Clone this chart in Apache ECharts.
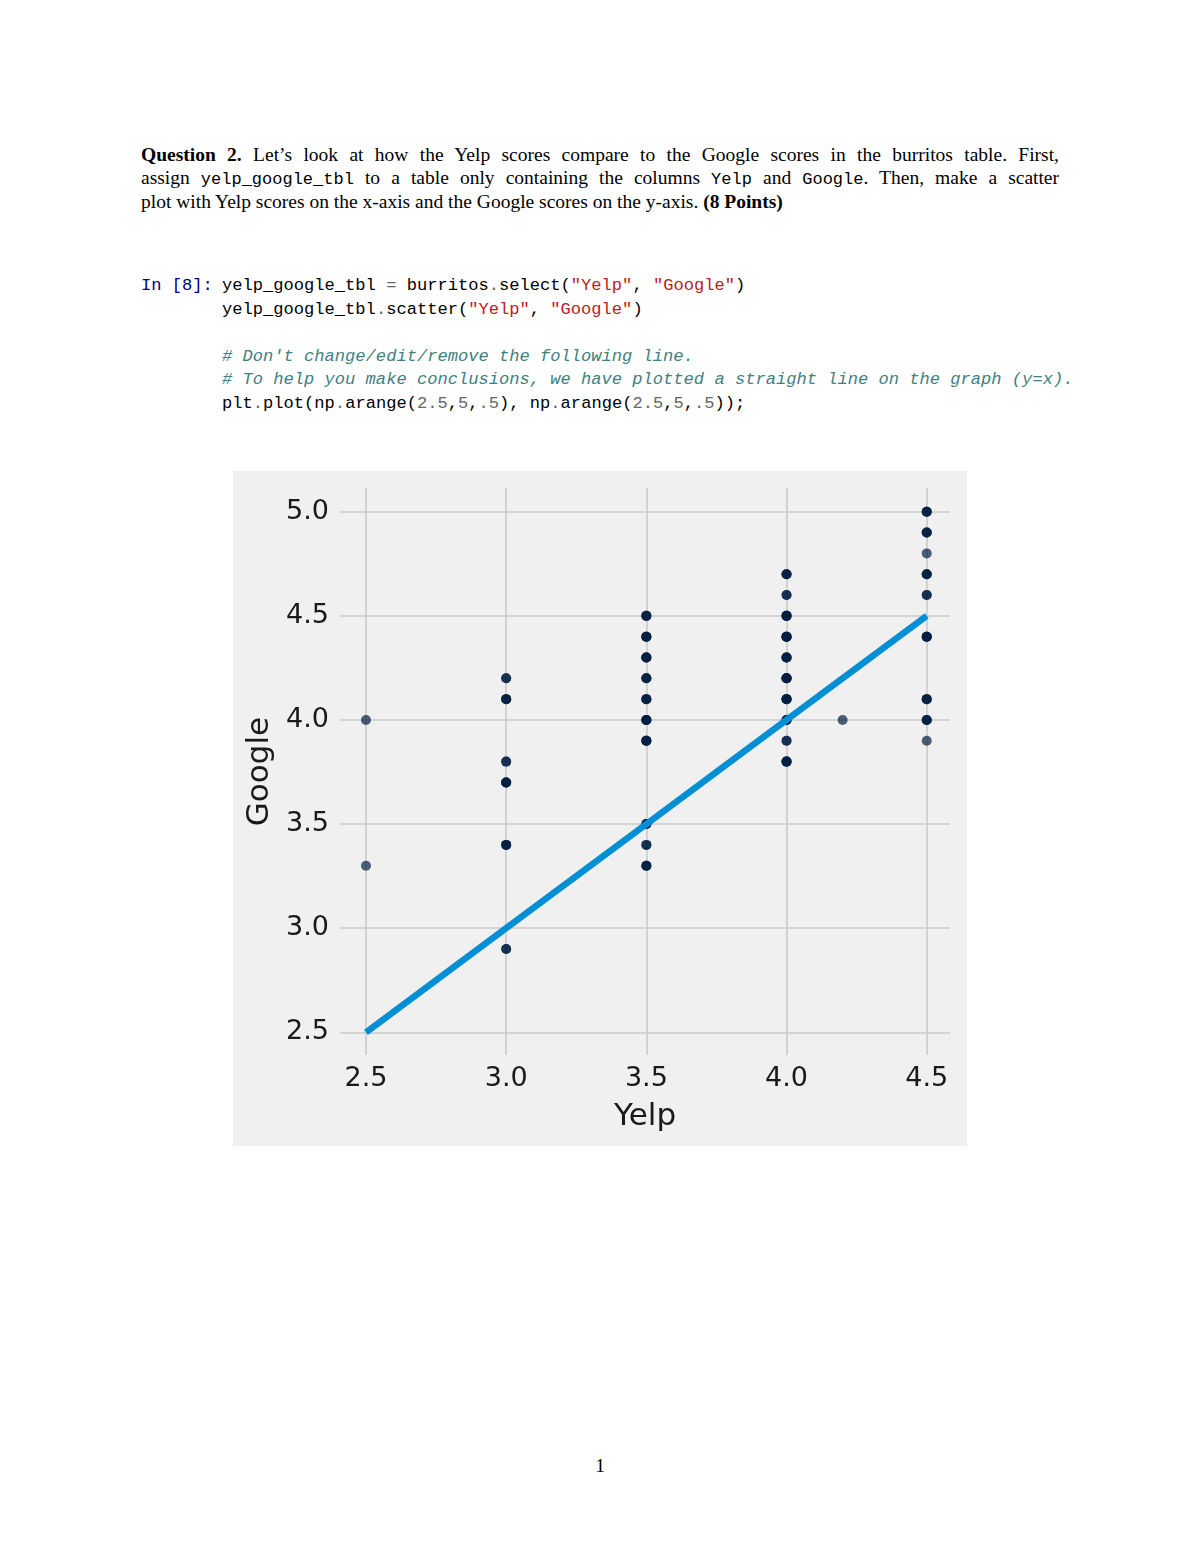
<!DOCTYPE html>
<html>
<head>
<meta charset="utf-8">
<script src="https://cdn.jsdelivr.net/npm/echarts@6/dist/echarts.min.js"></script>
<style>
  html, body { margin: 0; padding: 0; background: #ffffff; }
  body { width: 1200px; height: 1553px; position: relative; overflow: hidden; }
  .txt { position: absolute; left: 141px; width: 918px; font-family: "Liberation Serif", "DejaVu Serif", serif; font-size: 19.5px; line-height: 24px; color: #000; white-space: nowrap; }
  .just { text-align: justify; text-align-last: justify; white-space: normal; }
  .tt { font-family: "Liberation Mono", "DejaVu Sans Mono", monospace; font-size: 17px; }
  .code { position: absolute; font-family: "Liberation Mono", "DejaVu Sans Mono", monospace; font-size: 17.1px; line-height: 23.6px; color: #000; white-space: pre; }
  .prompt { color: #000080; }
  .s { color: #ba2121; }
  .n { color: #666666; }
  .c { color: #408080; font-style: italic; }
  #chart { position: absolute; left: 233px; top: 471px; width: 734px; height: 675px; }
  #pg { position: absolute; left: 590px; width: 20px; top: 1454px; text-align: center; font-family: "Liberation Serif", serif; font-size: 19.5px; line-height: 24px; }
</style>
</head>
<body>
<div class="txt just" style="top:143px;"><b>Question 2.</b> Let’s look at how the Yelp scores compare to the Google scores in the burritos table. First,</div>
<div class="txt just" style="top:166px;">assign <span class="tt">yelp_google_tbl</span> to a table only containing the columns <span class="tt">Yelp</span> and <span class="tt">Google</span>. Then, make a scatter</div>
<div class="txt" style="top:190px;">plot with Yelp scores on the x-axis and the Google scores on the y-axis. <b>(8 Points)</b></div>

<div class="code prompt" style="left:141px; top:274px;">In [8]:</div>
<div class="code" style="left:222px; top:274px;">yelp_google_tbl <span class="n">=</span> burritos<span class="n">.</span>select(<span class="s">"Yelp"</span>, <span class="s">"Google"</span>)
yelp_google_tbl<span class="n">.</span>scatter(<span class="s">"Yelp"</span>, <span class="s">"Google"</span>)

<span class="c"># Don't change/edit/remove the following line.</span>
<span class="c"># To help you make conclusions, we have plotted a straight line on the graph (y=x).</span>
plt<span class="n">.</span>plot(np<span class="n">.</span>arange(<span class="n">2.5</span>,<span class="n">5</span>,<span class="n">.5</span>), np<span class="n">.</span>arange(<span class="n">2.5</span>,<span class="n">5</span>,<span class="n">.5</span>));</div>

<div id="chart"></div>
<div id="pg">1</div>

<script>
// ---- data ----
// Yelp score of each column of points
const yelpValues = [2.5, 3.0, 3.5, 4.0, 4.2, 4.5];
// Google scores of the rows at each Yelp value (repeats = overlapping rows, drawn darker)
const googleAt2_5 = [4.0, 3.3];
const googleAt3_0 = [4.2, 4.2, 4.1, 4.1, 4.1, 3.8, 3.8, 3.7, 3.7, 3.7, 3.7, 3.4, 3.4, 3.4, 2.9, 2.9];
const googleAt3_5 = [4.5, 4.5, 4.5, 4.4, 4.4, 4.4, 4.4, 4.3, 4.3, 4.3, 4.3, 4.2, 4.2, 4.2, 4.1, 4.1, 4.1,
                     4.0, 4.0, 4.0, 4.0, 3.9, 3.9, 3.9, 3.9, 3.5, 3.5, 3.5, 3.4, 3.4, 3.3, 3.3, 3.3];
const googleAt4_0 = [4.7, 4.7, 4.7, 4.6, 4.6, 4.5, 4.5, 4.5, 4.5, 4.4, 4.4, 4.4, 4.4, 4.4, 4.3, 4.3, 4.3, 4.3,
                     4.2, 4.2, 4.2, 4.2, 4.2, 4.1, 4.1, 4.1, 4.1, 4.0, 4.0, 4.0, 3.9, 3.9, 3.8, 3.8, 3.8, 3.8];
const googleAt4_2 = [4.0];
const googleAt4_5 = [5.0, 5.0, 5.0, 4.9, 4.9, 4.9, 4.8, 4.7, 4.7, 4.7, 4.6, 4.6, 4.4, 4.4, 4.4, 4.4,
                     4.1, 4.1, 4.1, 4.0, 4.0, 4.0, 3.9];
const googleByYelp = [googleAt2_5, googleAt3_0, googleAt3_5, googleAt4_0, googleAt4_2, googleAt4_5];

// reference line y = x: np.arange(2.5, 5, .5)
const lineX = [2.5, 3.0, 3.5, 4.0, 4.5];
const lineY = [2.5, 3.0, 3.5, 4.0, 4.5];
// tick labels
const xTicks = [2.5, 3.0, 3.5, 4.0, 4.5];
const yTicks = [2.5, 3.0, 3.5, 4.0, 4.5, 5.0];

const scatterData = [];
yelpValues.forEach((x, i) => googleByYelp[i].forEach(y => scatterData.push([x, y])));

const chart = echarts.init(document.getElementById('chart'), null, { renderer: 'canvas' });
const fmt = v => Number(v).toFixed(1);
const axisFont = 'DejaVu Sans';

chart.setOption({
  backgroundColor: '#f0f0f0',
  animation: false,
  grid: { left: 107, right: 17, top: 17, bottom: 91, containLabel: false },
  xAxis: {
    type: 'value',
    min: 2.4073, max: 4.583,
    name: 'Yelp', nameLocation: 'middle', nameGap: 46,
    nameTextStyle: { fontFamily: axisFont, fontSize: 31, color: '#1a1a1a' },
    axisLine: { show: false },
    axisTick: { show: false, customValues: xTicks },
    axisLabel: { customValues: xTicks, formatter: fmt, fontFamily: axisFont, fontSize: 27, color: '#1a1a1a', margin: 10 },
    splitLine: { show: true, lineStyle: { color: '#cbcbcb', width: 1.6 } }
  },
  yAxis: {
    type: 'value',
    min: 2.391, max: 5.114,
    name: 'Google', nameLocation: 'middle', nameGap: 58, nameRotate: 90,
    nameTextStyle: { fontFamily: axisFont, fontSize: 31, color: '#1a1a1a' },
    axisLine: { show: false },
    axisTick: { show: false, customValues: yTicks },
    axisLabel: { customValues: yTicks, formatter: fmt, fontFamily: axisFont, fontSize: 27, color: '#1a1a1a', margin: 11, padding: [8, 0, 0, 0] },
    splitLine: { show: true, lineStyle: { color: '#cbcbcb', width: 1.6 } }
  },
  series: [
    {
      type: 'scatter',
      data: scatterData,
      symbol: 'circle',
      symbolSize: 10,
      itemStyle: { color: 'rgb(0,30,66)', opacity: 0.7 },
      emphasis: { disabled: true },
      z: 2
    },
    {
      type: 'line',
      data: lineX.map((x, i) => [x, lineY[i]]),
      showSymbol: false,
      symbol: 'none',
      lineStyle: { color: '#008fd5', width: 6.5, cap: 'butt' },
      emphasis: { disabled: true },
      z: 3
    }
  ]
});
</script>
</body>
</html>
